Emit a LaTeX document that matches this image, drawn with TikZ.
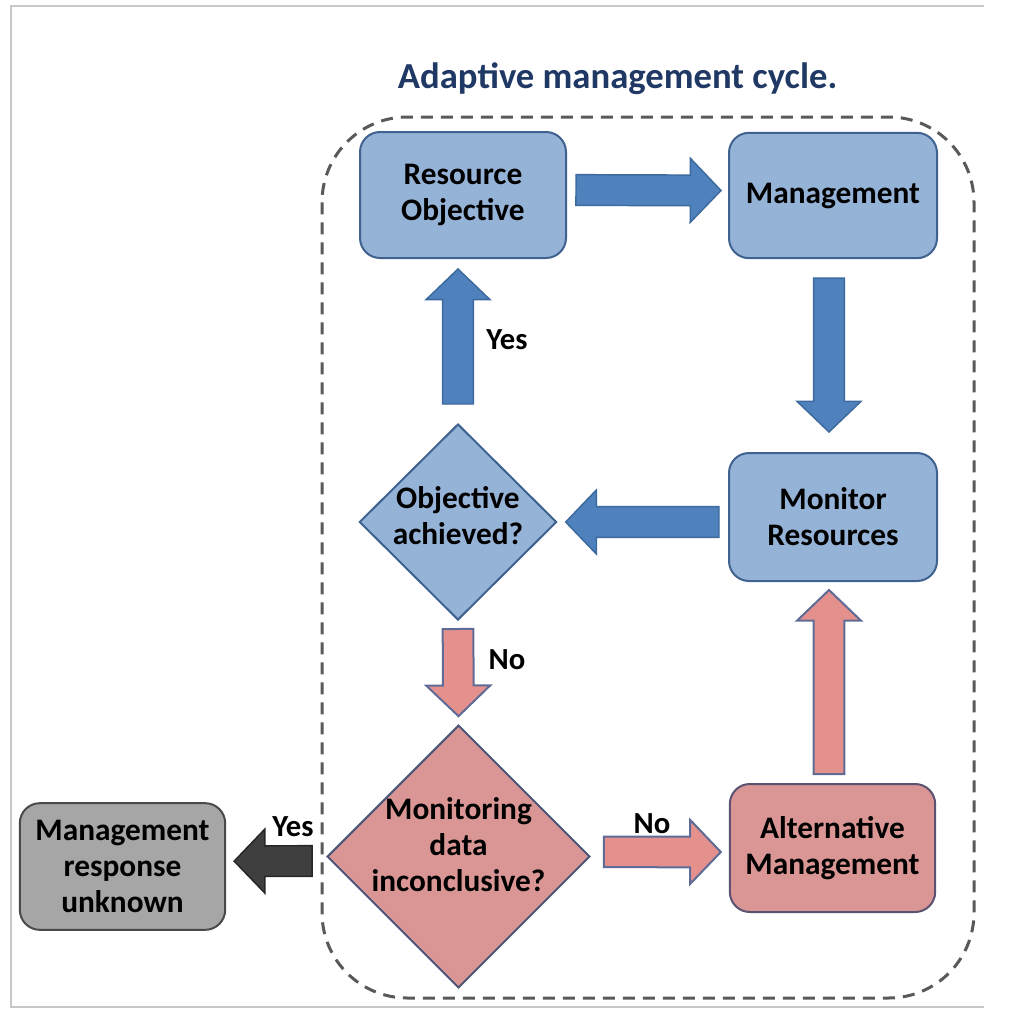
\documentclass[tikz,border=0pt]{standalone}
\usepackage{fontspec}
\setmainfont{Carlito}
\usetikzlibrary{shapes.geometric,calc}

\definecolor{boxblue}{HTML}{95B3D7}
\definecolor{boxline}{HTML}{3F6290}
\definecolor{arrowblue}{HTML}{4F81BD}
\definecolor{arrowline}{HTML}{3D6A9E}
\definecolor{boxpink}{HTML}{D99694}
\definecolor{pinkline}{HTML}{5B5272}
\definecolor{arrowpink}{HTML}{E4918E}
\definecolor{arrowpinkline}{HTML}{5F6B96}
\definecolor{boxgray}{HTML}{A6A6A6}
\definecolor{grayline}{HTML}{4A4A4A}
\definecolor{arrowdark}{HTML}{3F3F3F}
\definecolor{titleblue}{HTML}{1F3864}
\definecolor{framegray}{HTML}{C8C8C8}
\definecolor{cyclegray}{HTML}{595959}

\newcommand{\boxfont}{\bfseries\fontsize{23.5}{27}\selectfont}

% block arrow from #2 to #3, style #1
\newcommand{\blockarr}[3]{%
  \path #2 coordinate (s) #3 coordinate (e);
  \path ($(e)!23pt!(s)$) coordinate (h);
  \draw[#1] ($(s)!11.5pt!90:(e)$) -- ($(h)!11.5pt!-90:(s)$) -- ($(h)!24pt!-90:(s)$) -- (e)
    -- ($(h)!24pt!90:(s)$) -- ($(h)!11.5pt!90:(s)$) -- ($(s)!11.5pt!-90:(e)$) -- cycle;
}

\tikzset{every picture/.style={line width=0.75pt}}
\tikzset{
  boxtext/.style={font=\boxfont, align=center, text=black},
  cyclebox/.style={rectangle, rounded corners=15pt, line width=1.5pt, inner sep=0pt, boxtext},
  bluebox/.style={cyclebox, fill=boxblue, draw=boxline},
  pinkbox/.style={cyclebox, fill=boxpink, draw=pinkline},
  graybox/.style={cyclebox, fill=boxgray, draw=grayline},
  decision/.style={diamond, aspect=1, inner sep=0pt, line width=1.5pt},
  bluearrow/.style={fill=arrowblue, draw=arrowline, line width=1.1pt, line join=miter},
  pinkarrow/.style={fill=arrowpink, draw=arrowpinkline, line width=1.5pt, line join=miter},
  darkarrow/.style={fill=arrowdark, draw=black!85, line width=1.1pt, line join=miter},
  lbl/.style={font=\bfseries\fontsize{23}{27}\selectfont, text=black},
}

\begin{document}
\begin{tikzpicture}[x=0.75pt,y=0.75pt,yscale=-1,xscale=1]
\useasboundingbox (0,0) rectangle (1011,1010);

% frame
\draw[framegray, line width=1.5pt] (984,6) -- (11,6) -- (11,1007) -- (984,1007);

% title
\node[font=\bfseries\fontsize{27.5}{33}\selectfont, text=titleblue, anchor=base west] (ttl) at (393,88) {Adaptive management cycle.};

% cycle outline
\draw[cyclegray, line width=2.25pt, dash pattern=on 9pt off 6pt, rounded corners=64pt] (322,117) rectangle (974,998);

% boxes
\node[bluebox, minimum width=154.5pt, minimum height=94.5pt] (ro) at (463,195) {Resource\\Objective};
\node[bluebox, minimum width=156pt, minimum height=94pt] (mg) at (833,195.5) {Management};
\node[bluebox, minimum width=156pt, minimum height=96pt] (mon) at (833,517) {Monitor\\Resources};
\node[pinkbox, minimum width=154pt, minimum height=96pt] (alt) at (832.5,848) {Alternative\\Management};
\node[graybox, minimum width=154pt, minimum height=95pt] (unk) at (122.5,866.5) {Management\\response\\unknown};

% decisions
\node[decision, fill=boxblue, draw=boxline, minimum width=148pt, minimum height=147pt,
  label={[boxtext, name=objtxt, yshift=5pt]center:{Objective\\achieved?}}] (obj) at (458,522) {};
\node[decision, fill=boxpink, draw=arrowpinkline!80!black, minimum width=197pt, minimum height=197pt,
  label={[boxtext, name=mditxt, yshift=9pt]center:{Monitoring\\data\\inconclusive?}}] (mdi) at (458.5,856.5) {};

% arrows
\blockarr{bluearrow}{([xshift=6.75pt,yshift=-3.75pt]ro.east)}{([xshift=-5.25pt,yshift=-3.75pt]mg.west)}
\blockarr{bluearrow}{([xshift=-3pt,yshift=14.25pt]mg.south)}{([xshift=-3pt,yshift=-15pt]mon.north)}
\blockarr{bluearrow}{([xshift=-6.75pt,yshift=3.75pt]mon.west)}{([xshift=6pt]obj.east)}
\blockarr{bluearrow}{([yshift=-14.25pt]obj.north)}{([yshift=7.5pt]obj.north |- ro.south)}
\blockarr{pinkarrow}{([yshift=6pt]obj.south)}{([yshift=-6pt]mdi.north)}
\blockarr{pinkarrow}{([xshift=9.75pt,yshift=-3.5pt]mdi.east)}{([xshift=-6pt,yshift=3pt]alt.west)}
\blockarr{pinkarrow}{([xshift=-2.6pt,yshift=-6.75pt]alt.north)}{([xshift=-3pt,yshift=6pt]mon.south)}
\blockarr{darkarrow}{([xshift=-10.5pt,yshift=3.4pt]mdi.west)}{([xshift=6pt,yshift=-4pt]unk.east)}

% arrow labels
\node[lbl] (yesup) at (507,340) {Yes};
\node[lbl] (nodown) at (507,660) {No};
\node[lbl] (noright) at (652,824) {No};
\node[lbl] (yesleft) at (293,827) {Yes};

\end{tikzpicture}
\end{document}
